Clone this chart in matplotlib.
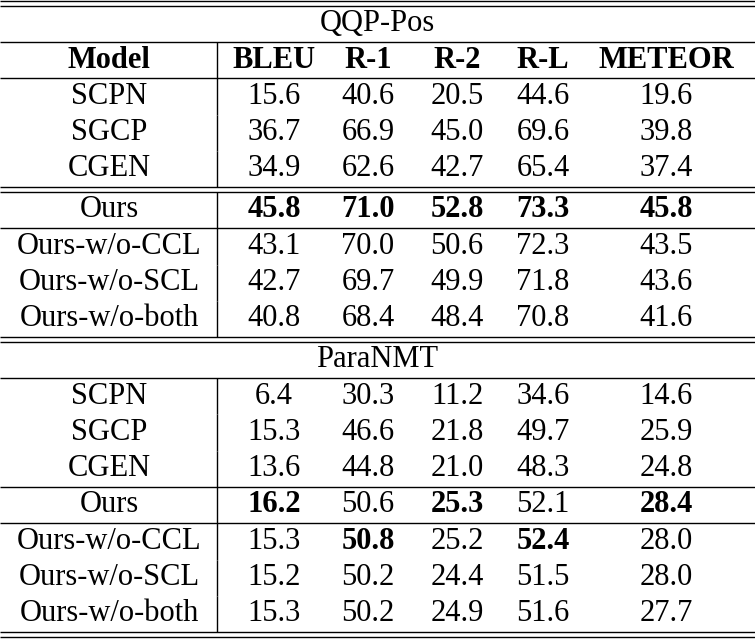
import matplotlib.pyplot as plt

# table contents
metrics = ['BLEU', 'R-1', 'R-2', 'R-L', 'METEOR']
datasets = ['QQP-Pos', 'ParaNMT']
baselines = ['SCPN', 'SGCP', 'CGEN']
ours = ['Ours']
ablations = ['Ours-w/o-CCL', 'Ours-w/o-SCL', 'Ours-w/o-both']

qqp_scores = [
    [15.6, 40.6, 20.5, 44.6, 19.6],
    [36.7, 66.9, 45.0, 69.6, 39.8],
    [34.9, 62.6, 42.7, 65.4, 37.4],
    [45.8, 71.0, 52.8, 73.3, 45.8],
    [43.1, 70.0, 50.6, 72.3, 43.5],
    [42.7, 69.7, 49.9, 71.8, 43.6],
    [40.8, 68.4, 48.4, 70.8, 41.6],
]
paranmt_scores = [
    [6.4, 30.3, 11.2, 34.6, 14.6],
    [15.3, 46.6, 21.8, 49.7, 25.9],
    [13.6, 44.8, 21.0, 48.3, 24.8],
    [16.2, 50.6, 25.3, 52.1, 28.4],
    [15.3, 50.8, 25.2, 52.4, 28.0],
    [15.2, 50.2, 24.4, 51.5, 28.0],
    [15.3, 50.2, 24.9, 51.6, 27.7],
]
# separator drawn after each group (baselines, ours, ablations)
separators = [['double', 'single', 'double'],
              ['single', 'single', 'double']]

# layout (pixels)
W, H = 755, 641
ROW_H = 36.3
GAP = 4.7
BASE = 25.5
VLINE_X = 217
col_x = [109, 274, 368, 457, 543, 666]
FONT = 'Liberation Serif'
FS = 22

fig = plt.figure(figsize=(W / 100, H / 100), dpi=100)
ax = fig.add_axes([0, 0, 1, 1])
ax.set_xlim(0, W)
ax.set_ylim(H, 0)
ax.axis('off')


def hline(y):
    ax.plot([0, W], [y, y], color='black', lw=1.0, solid_capstyle='butt')


def cell(x, y, s, bold=False):
    ax.text(x, y + BASE, s, ha='center', va='baseline', fontsize=FS,
            family=FONT, fontweight='bold' if bold else 'normal')


def row(y, texts, bolds):
    for x, s, b in zip(col_x, texts, bolds):
        cell(x, y, s, b)
    ax.plot([VLINE_X, VLINE_X], [y, y + ROW_H], color='black', lw=1.0,
            solid_capstyle='butt')


y = 1.0
hline(y)
y += GAP
hline(y)

for i, (name, scores) in enumerate(zip(datasets, [qqp_scores, paranmt_scores])):
    # dataset title spanning all columns
    cell(W / 2, y, name)
    y += ROW_H
    hline(y)
    if i == 0:
        row(y, ['Model'] + metrics, [True] * 6)
        y += ROW_H
        hline(y)
    best = [max(r[j] for r in scores) for j in range(len(metrics))]
    groups = [baselines, ours, ablations]
    k = 0
    for group, sep in zip(groups, separators[i]):
        for m in group:
            vals = scores[k]
            k += 1
            row(y, [m] + [f'{v:.1f}' for v in vals],
                [False] + [v == b for v, b in zip(vals, best)])
            y += ROW_H
        hline(y)
        if sep == 'double':
            y += GAP
            hline(y)

fig.savefig('out.png', dpi=100)
